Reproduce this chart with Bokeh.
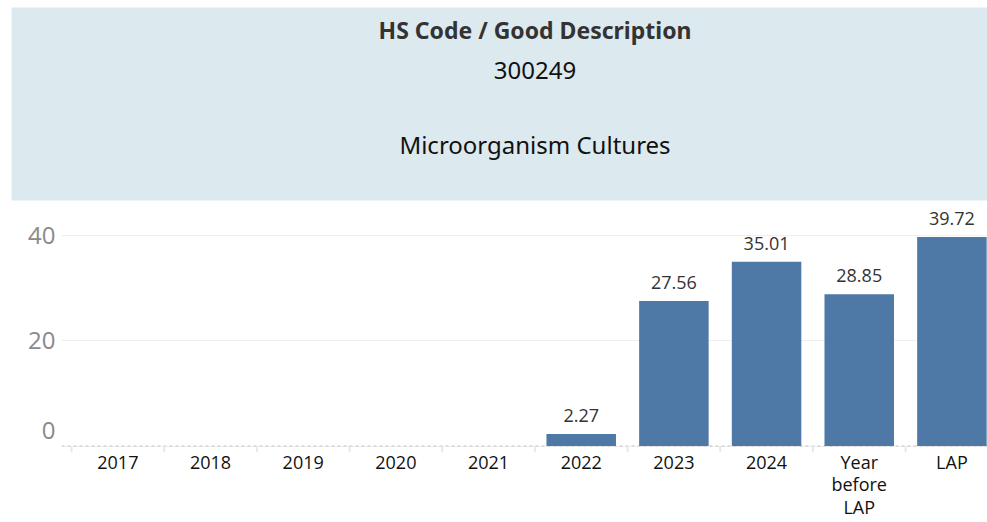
from bokeh.plotting import figure
from bokeh.models import Range1d, FixedTicker, Span, ColumnDataSource, Label
from bokeh.layouts import column
from bokeh.embed import file_html
from bokeh.resources import INLINE

# ---- data ----
categories = ["2017", "2018", "2019", "2020", "2021", "2022", "2023", "2024", "Year before LAP", "LAP"]
values = [None, None, None, None, None, 2.27, 27.56, 35.01, 28.85, 39.72]
tick_labels = ["2017", "2018", "2019", "2020", "2021", "2022", "2023", "2024", "Year\nbefore\nLAP", "LAP"]
y_ticks = [0, 20, 40]
header_title = "HS Code / Good Description"
hs_code = "300249"
good_description = "Microorganism Cultures"

BAR_COLOR = "#4e79a7"
PANEL = "#dce9ef"

# ---- header panel ----
h = figure(width=987, height=201, x_range=Range1d(0, 976), y_range=Range1d(193, 0),
           output_backend="svg", toolbar_location=None, frame_align=False,
           min_border_left=11, min_border_right=0, min_border_top=7, min_border_bottom=1)
h.axis.visible = False
h.grid.visible = False
h.outline_line_color = None
h.background_fill_color = PANEL
h.border_fill_color = "white"
cx = 523.5
h.add_layout(Label(x=cx, y=22, text=header_title, text_align="center", text_baseline="middle",
                   text_font="Noto Sans", text_font_style="bold", text_font_size="23px",
                   text_color="#333333"))
h.add_layout(Label(x=cx, y=63, text=hs_code, text_align="center", text_baseline="middle",
                   text_font="Noto Sans", text_font_size="24px", text_color="#111111"))
h.add_layout(Label(x=cx, y=137, text=good_description, text_align="center", text_baseline="middle",
                   text_font="Noto Sans", text_font_size="24px", text_color="#111111"))

# ---- bar chart ----
n = len(categories)
xs = list(range(n))
x_start, x_end = -0.608, 9.384   # the last category runs off the right edge, as in the original
y_start, y_end = -1.235, 45.70
px_per_unit = 247 / (y_end - y_start)

p = figure(width=987, height=321, x_range=Range1d(x_start, x_end), y_range=Range1d(y_start, y_end),
           output_backend="svg", toolbar_location=None, frame_align=False,
           min_border_left=61, min_border_right=0, min_border_top=4, min_border_bottom=70)
p.outline_line_color = None
p.background_fill_color = "white"
p.xgrid.visible = False
p.ygrid.ticker = FixedTicker(ticks=y_ticks)
p.ygrid.grid_line_color = "#efefef"
p.ygrid.grid_line_width = 1

# Tableau lifts the bottom "0" label ~16px above the zero line
zero_lift = 16 / px_per_unit
label_ticks = [y_ticks[0] + zero_lift] + y_ticks[1:]
p.yaxis.ticker = FixedTicker(ticks=label_ticks)
p.yaxis.major_label_overrides = {label_ticks[0]: str(y_ticks[0])}
p.yaxis.axis_line_color = None
p.yaxis.major_tick_line_color = None
p.yaxis.minor_tick_line_color = None
p.yaxis.major_tick_out = 0
p.yaxis.major_tick_in = 0
p.yaxis.major_label_text_font = "Open Sans"
p.yaxis.major_label_text_font_size = "24px"
p.yaxis.major_label_text_color = "#8a8a8a"
p.yaxis.major_label_standoff = 6

p.xaxis.ticker = FixedTicker(ticks=xs)
p.xaxis.major_label_overrides = {i: lab for i, lab in zip(xs, tick_labels)}
p.xaxis.axis_line_color = None
p.xaxis.major_tick_line_color = None
p.xaxis.minor_tick_line_color = None
p.xaxis.major_tick_out = 0
p.xaxis.major_tick_in = 0
p.xaxis.major_label_text_font = "Open Sans"
p.xaxis.major_label_text_font_size = "18px"
p.xaxis.major_label_text_color = "#111111"
p.xaxis.major_label_text_line_height = 0.95
p.xaxis.major_label_standoff = -3

# category separators below the zero line
seps = [i - 0.5 for i in range(n + 1)]
p.segment(x0=seps, y0=[0] * len(seps), x1=seps, y1=[y_start] * len(seps),
          line_color="#e8e8e8", line_width=2)

p.add_layout(Span(location=0, dimension="width", line_color="#c4c4c4",
                  line_dash="3 3", line_width=1, level="underlay"))

bx = [x for x, v in zip(xs, values) if v is not None]
bv = [v for v in values if v is not None]
src = ColumnDataSource(dict(x=bx, top=bv, label=[f"{v:.2f}" for v in bv]))
p.vbar(x="x", top="top", width=0.75, source=src, fill_color=BAR_COLOR, line_color=None)
p.text(x="x", y="top", text="label", source=src, text_align="center", text_baseline="bottom",
       y_offset=-12, text_font_size="18px", text_color="#333333",
       text_font={"value": "Open Sans"})

layout = column(h, p, spacing=0)
open("out.html", "w").write(file_html(layout, INLINE))
